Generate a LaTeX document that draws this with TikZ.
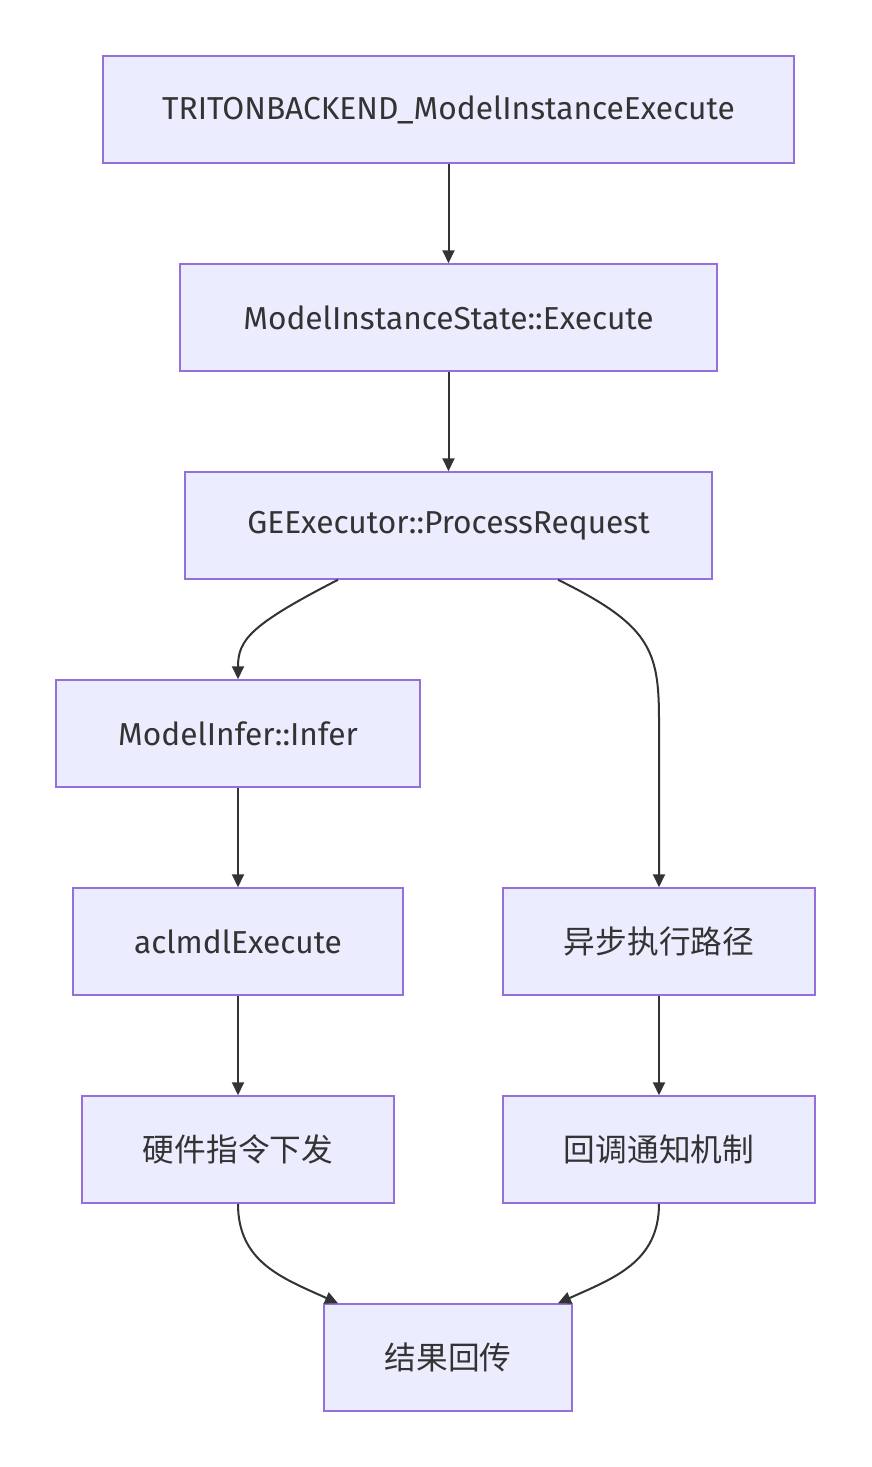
\documentclass[tikz,border=0pt]{standalone}
\usepackage{fontspec}
\setmainfont{Fira Sans}
\newfontfamily\cjk{Noto Sans CJK SC}
\usetikzlibrary{arrows.meta}
\definecolor{nodefill}{HTML}{ECECFF}
\definecolor{nodeline}{HTML}{9370DB}
\definecolor{ink}{HTML}{333333}
\begin{document}
\begin{tikzpicture}[x=1pt,y=1pt,
  box/.style={draw=nodeline,fill=nodefill,line width=1.5pt,inner sep=0pt,text=ink,font=\fontsize{31.7}{36}\selectfont},
  conn/.style={draw=ink,line width=2pt,-{Triangle[length=13pt,width=12pt]}}]
\useasboundingbox (0,0) rectangle (871,-1467);
\fill[white] (0,0) rectangle (871,-1467);
\node[box,minimum width=691,minimum height=107] (n1) at (448.5,-109.5) {TRITONBACKEND\_ModelInstanceExecute};
\node[box,minimum width=537,minimum height=107] (n2) at (448.5,-317.5) {ModelInstanceState::Execute};
\node[box,minimum width=527,minimum height=107] (n3) at (448.5,-525.5) {GEExecutor::ProcessRequest};
\node[box,minimum width=364,minimum height=107] (n4) at (238,-733.5) {ModelInfer::Infer};
\node[box,minimum width=330,minimum height=107] (n5) at (238,-941.5) {aclmdlExecute};
\node[box,minimum width=312,minimum height=107] (n6) at (659,-941.5) {\cjk 异步执行路径};
\node[box,minimum width=312,minimum height=107] (n7) at (238,-1149.5) {\cjk 硬件指令下发};
\node[box,minimum width=312,minimum height=107] (n8) at (659,-1149.5) {\cjk 回调通知机制};
\node[box,minimum width=248,minimum height=107] (n9) at (448,-1357.5) {\cjk 结果回传};
\draw[conn] (n1) -- (n2);
\draw[conn] (n2) -- (n3);
\draw[conn] ([xshift=-110.5pt]n3.south) .. controls (250,-625) and (238,-640) .. (n4.north);
\draw[conn] ([xshift=109.5pt]n3.south) .. controls (650,-625) and (659,-650) .. (659,-720) -- (n6.north);
\draw[conn] (n4) -- (n5);
\draw[conn] (n6) -- (n8);
\draw[conn] (n5) -- (n7);
\draw[conn] (n7.south) .. controls (238,-1262) and (282,-1278) .. ([xshift=-110pt]n9.north);
\draw[conn] (n8.south) .. controls (659,-1262) and (614,-1278) .. ([xshift=110pt]n9.north);
\end{tikzpicture}
\end{document}
